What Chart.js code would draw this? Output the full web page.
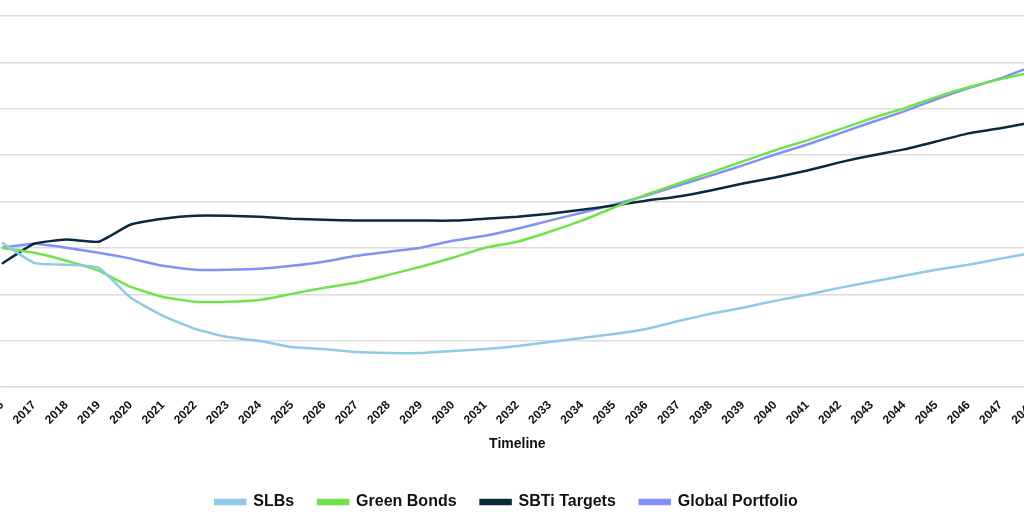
<!DOCTYPE html>
<html>
<head>
<meta charset="utf-8">
<script src="https://cdn.jsdelivr.net/npm/chart.js@4.4.0/dist/chart.umd.min.js"></script>
<style>
  html, body { margin: 0; padding: 0; background: #fff; }
  #frame { position: relative; width: 1024px; height: 512px; overflow: hidden; }
  #wrap { position: absolute; left: -20px; top: 0; width: 1066px; height: 520px; }
</style>
</head>
<body>
<div id="frame">
  <div id="wrap"><canvas id="chart"></canvas></div>
</div>
<script>
const years = [];
for (let y = 2016; y <= 2048; y++) years.push(String(y));

const slbs = [102.3, 93.6, 92.8, 91.5, 78.5, 70.7, 65.1, 61.6, 59.9, 57.3, 56.4, 55.1, 54.7, 54.7, 55.6, 56.4, 57.7,
    59.5, 61.2, 62.9, 65.1, 68.5, 71.6, 74.2, 77.2, 79.8, 82.8, 85.4, 88.0, 90.6, 92.8, 95.4, 97.9];
const greenBonds = [100.1, 97.9, 94.5, 90.2, 83.2, 78.9, 76.8, 76.8, 77.6, 80.2, 82.8, 85.0, 88.4, 91.9, 95.8, 100.1, 102.7,
    107.0, 111.8, 117.4, 123.0, 127.8, 132.5, 137.3, 142.1, 146.4, 151.1, 155.9, 160.2, 165.0, 169.3, 172.8, 175.8];
const sbtiTargets = [93.2, 101.8, 103.6, 102.7, 110.1, 112.6, 113.9, 113.9, 113.5, 112.6, 112.2, 111.8, 111.8, 111.8, 111.8, 112.6, 113.5,
    114.8, 116.5, 118.3, 120.4, 122.2, 124.8, 127.8, 130.4, 133.4, 136.9, 139.9, 142.5, 145.9, 149.4, 151.6, 154.2];
const globalPortfolio = [100.1, 101.8, 100.1, 97.9, 95.4, 92.3, 90.6, 90.6, 91.0, 92.3, 94.1, 96.6, 98.4, 100.1, 103.1, 105.3, 108.3,
    111.8, 115.2, 118.7, 122.6, 126.9, 131.2, 135.6, 140.3, 144.6, 149.4, 154.2, 158.9, 164.1, 168.9, 173.2, 178.4];

const yMin = 40;
const yMax = 200;
const yStep = 20;

const fontFamily = "'Liberation Sans', Arial, Helvetica, sans-serif";

function makeSet(label, data, color) {
    return {
        label: label,
        data: data,
        borderColor: color,
        backgroundColor: color,
        borderWidth: 2.5,
        pointRadius: 0,
        tension: 0.15,
        fill: false
    };
}

const ctx = document.getElementById("chart").getContext("2d");
new Chart(ctx, {
    type: "line",
    data: {
        labels: years,
        datasets: [
            makeSet("SLBs", slbs, "#8ecae6"),
            makeSet("Green Bonds", greenBonds, "#70e24a"),
            makeSet("SBTi Targets", sbtiTargets, "#0b2a3c"),
            makeSet("Global Portfolio", globalPortfolio, "#8191f6")
        ]
    },
    options: {
        responsive: true,
        maintainAspectRatio: false,
        animation: false,
        layout: { padding: { top: 16, right: 13, bottom: 0, left: 0 } },
        plugins: {
            tooltip: { enabled: false },
            legend: {
                position: "bottom",
                labels: {
                    boxWidth: 30,
                    boxHeight: 4,
                    padding: 24,
                    color: "#111",
                    font: { family: fontFamily, size: 16, weight: "bold" }
                }
            }
        },
        scales: {
            x: {
                offset: false,
                grid: { display: false },
                border: { display: true, color: "#dcdcdc", width: 1.5 },
                ticks: {
                    autoSkip: false,
                    minRotation: 45,
                    maxRotation: 45,
                    color: "#111",
                    font: { family: fontFamily, size: 12, weight: "bold" }
                },
                title: {
                    display: true,
                    text: "Timeline",
                    color: "#111",
                    padding: { top: 6, bottom: 17 },
                    font: { family: fontFamily, size: 14, weight: "bold" }
                }
            },
            y: {
                min: yMin,
                max: yMax,
                ticks: { display: false, stepSize: yStep },
                border: { display: false },
                grid: { color: "#dcdcdc", lineWidth: 1.5 }
            }
        }
    }
});
</script>
</body>
</html>
